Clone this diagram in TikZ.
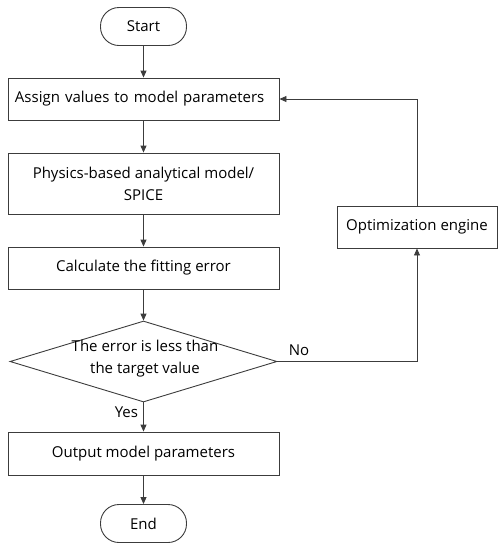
\documentclass[tikz,border=0pt]{standalone}
\usepackage{fontspec}
\setmainfont{Open Sans}
\usetikzlibrary{arrows.meta,shapes.geometric}
\definecolor{ln}{HTML}{3C3C3C}
\tikzset{
  txt/.style={font=\fontsize{15}{22}\selectfont},
  box/.style={draw=ln, line width=0.9pt, rectangle, minimum width=271pt, inner sep=0pt, align=center, txt},
  term/.style={draw=ln, line width=0.9pt, rectangle, rounded corners=18.5pt, minimum width=86pt, minimum height=38pt, inner sep=0pt, txt},
  dec/.style={draw=ln, line width=0.9pt, diamond, minimum width=267pt, minimum height=81pt, inner sep=0pt},
  lbl/.style={txt, inner sep=0pt, align=center},
  arr/.style={draw=ln, line width=0.9pt, -{Triangle[length=7pt,width=6pt]}}
}
\begin{document}
\begin{tikzpicture}[x=1pt,y=-1pt]
\useasboundingbox (0,0) rectangle (503,550);
\node[term] (start) at (143.5,26.5) {Start};
\node[box, minimum height=42pt, align=left, text width=257pt, inner xsep=7pt] (b1) at (143.5,99) {Assign values to model parameters};
\node[box, minimum height=61pt] (b2) at (143.5,183.5) {Physics-based analytical model/\\SPICE};
\node[box, minimum height=42pt] (b3) at (143.5,268) {Calculate the fitting error};
\node[dec] (d) at (143.5,361.5) {};
\node[lbl] (dt) at (145,359) {The error is less than\\the target value};
\node[box, minimum height=43pt] (b4) at (143.5,453.5) {Output model parameters};
\node[term] (end) at (143.5,523.5) {End};
\node[box, minimum width=160pt, minimum height=42pt] (opt) at (417,227) {Optimization engine};
\draw[arr] (start) -- (b1);
\draw[arr] (b1) -- (b2);
\draw[arr] (b2) -- (b3);
\draw[arr] (b3) -- (d.north);
\draw[arr] (d.south) -- node[lbl, anchor=east, xshift=-5pt, pos=0.35] (yes) {Yes} (b4);
\draw[arr] (b4) -- (end);
\draw[arr] (d.east) -- node[lbl, anchor=south west, xshift=11pt, yshift=5pt, pos=0] (no) {No} (d.east -| opt.south) -- (opt.south);
\draw[arr] (opt.north) |- (b1.east);
\end{tikzpicture}
\end{document}
